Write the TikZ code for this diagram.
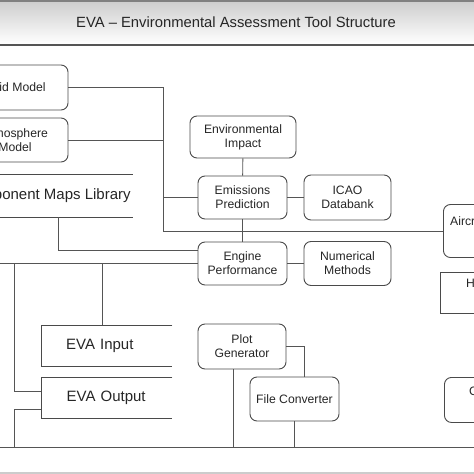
\documentclass[tikz,border=0pt]{standalone}
\usepackage{fontspec}
\setmainfont{Liberation Sans}
\usetikzlibrary{calc}
\definecolor{ln}{HTML}{555555}
\definecolor{bx}{HTML}{4A4A4A}
\definecolor{tx}{HTML}{262626}
\begin{document}
\begin{tikzpicture}[x=1pt,y=-1pt,
  rbox/.style={draw=bx, line width=0.9pt, rounded corners=7pt, inner sep=0pt, align=center, font=\fontsize{12.2}{14}\selectfont, text=tx},
  sbox/.style={draw=bx, line width=0.9pt, inner sep=0pt},
  store/.style={inner sep=0pt, font=\fontsize{15}{18}\selectfont, text=tx},
  sline/.style={draw=bx, line width=0.9pt},
  conn/.style={draw=ln, line width=0.9pt},
  small/.style={inner sep=0pt, font=\fontsize{12.2}{14}\selectfont, text=tx},
]
\useasboundingbox (0,0) rectangle (474,474);
\clip (0,0) rectangle (474,474);
% header
\shade[top color=gray!40, bottom color=white] (0,0) rectangle (474,44);
\draw[gray, line width=1.5pt] (0,0.75) -- (474,0.75);
\draw[ln, line width=1.5pt] (0,45) -- (474,45);
\node[font=\fontsize{14.8}{18}\selectfont, text=tx] (title) at (236,22) {EVA -- Environmental Assessment Tool Structure};
% bottom band
\fill[gray!40] (0,472) rectangle (474,474);
% nodes
\node[rbox, minimum width=114pt, minimum height=45pt] (geoid) at (11,87.5) {Geoid Model};
\node[rbox, minimum width=106pt, minimum height=44pt] (atmo) at (15,140) {Atmosphere\\Model};
\node[store, minimum width=173pt, minimum height=42pt] (cml) at (46.5,196) {Component Maps Library};
\draw[sline] (cml.north west) -- (cml.north east) (cml.south west) -- (cml.south east);
\node[rbox, minimum width=106pt, minimum height=42pt] (env) at (243,137) {Environmental\\Impact};
\node[rbox, minimum width=89pt, minimum height=43pt] (emis) at (242.5,197.5) {Emissions\\Prediction};
\node[rbox, minimum width=87pt, minimum height=45pt] (icao) at (347.5,197.5) {ICAO\\Databank};
\node[rbox, minimum width=89pt, minimum height=43pt] (eng) at (242.5,263.5) {Engine\\Performance};
\node[rbox, minimum width=87pt, minimum height=44pt] (num) at (347.5,263.5) {Numerical\\Methods};
\node[rbox, minimum width=88pt, minimum height=45pt] (plot) at (242,346.5) {Plot\\Generator};
\node[rbox, minimum width=89pt, minimum height=44pt] (fc) at (294.5,399) {File Converter};
\node[rbox, minimum width=120pt, minimum height=53pt, anchor=west] (air) at (443,231) {};
\node[small, anchor=base west] (airt) at (450,225.4) {Aircraft};
\node[sbox, minimum width=60pt, minimum height=41pt, anchor=north west] (hb) at (440,272) {};
\node[small, anchor=base west] (ht) at (466,287.3) {H};
\node[rbox, minimum width=60pt, minimum height=45pt, anchor=north west] (cb) at (444,377) {};
\node[small, anchor=base west] (ct) at (469,395.5) {C};
\node[store, anchor=north west, minimum height=41pt, text width=81pt, inner xsep=25pt, align=left] (inp) at (41,325) {EVA Input};
\draw[sline] (inp.north east) -- (inp.north west) -- (inp.south west) -- (inp.south east);
\node[store, anchor=north west, minimum height=41pt, text width=80pt, inner xsep=25.5pt, align=left] (out) at (41,377) {EVA Output};
\draw[sline] (out.north east) -- (out.north west) -- (out.south west) -- (out.south east);
% coordinates
\coordinate (bus) at (163,231);
\coordinate (cmlx) at (58,0);
\coordinate (L) at (0,263.5);
\coordinate (v1) at (14,263.5);
\coordinate (v2) at (102,263.5);
\coordinate (B0) at (0,447);
\coordinate (B1) at (474,447);
\coordinate (bl) at (14,447);
\coordinate (p1) at ($(plot.south)+(-9,0)$);
\coordinate (f1) at ($(fc.north)+(9.5,0)$);
% connectors
\draw[conn] (geoid.east) -| (bus) -- (air.west);
\draw[conn] (atmo.east) -- (atmo.east -| bus);
\draw[conn] (emis.west) -- (emis.west -| bus);
\draw[conn] (env) -- (emis);
\draw[conn] (emis) -- (eng);
\draw[conn] (emis) -- (icao);
\draw[conn] (eng) -- (num);
\draw[conn] (cml.south -| cmlx) |- ($(eng.west)+(0,-13.5)$);
\draw[conn] (L) -- (eng.west);
\draw[conn] (v1) |- ($(out.west)+(0,-6.5)$);
\draw[conn] (v2) -- (v2 |- inp.north);
\draw[conn] ($(out.west)+(0,11.5)$) -| (bl);
\draw[conn] (B0) -- (B1);
\draw[conn] (p1) -- (p1 |- B0);
\draw[conn] (plot.east) -| (f1);
\draw[conn] (fc.south) -- (fc.south |- B0);
\end{tikzpicture}
\end{document}
